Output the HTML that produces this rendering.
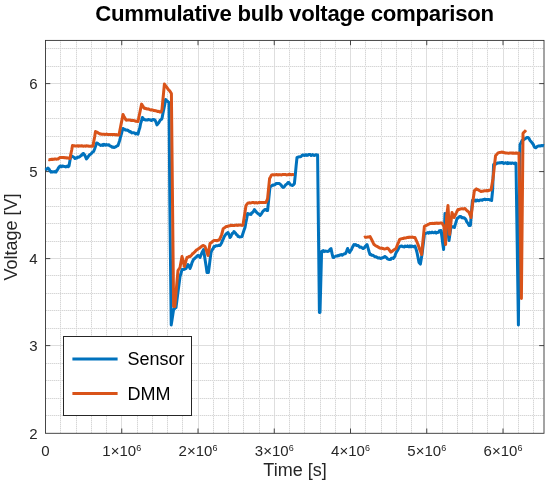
<!DOCTYPE html>
<html><head><meta charset="utf-8"><title>Cummulative bulb voltage comparison</title>
<style>
html,body{margin:0;padding:0;background:#fff;}
svg{display:block;font-family:"Liberation Sans",Arial,Helvetica,sans-serif;}
.mj{stroke:#dedede;stroke-width:1;}
.mb{stroke:#efefef;stroke-width:1;}
.mn{stroke:#d6d6d6;stroke-width:1;stroke-dasharray:1 1;}
.ax{stroke:#333;stroke-width:0.9;fill:none;}
.tk{font-size:15px;fill:#262626;}
.sup{font-size:9px;}
.lb{font-size:18px;fill:#262626;}
.ttl{font-size:22.2px;letter-spacing:-0.27px;font-weight:bold;fill:#000;}
.ln{fill:none;stroke-width:3;stroke-linejoin:round;stroke-linecap:butt;}
</style></head>
<body>
<svg width="550" height="485" viewBox="0 0 550 485">
<rect width="550" height="485" fill="#fff"/>
<g shape-rendering="crispEdges">
<line class="mb" x1="60.5" y1="40.4" x2="60.5" y2="433.3"/>
<line class="mn" x1="60.5" y1="40.4" x2="60.5" y2="433.3"/>
<line class="mb" x1="76.5" y1="40.4" x2="76.5" y2="433.3"/>
<line class="mn" x1="76.5" y1="40.4" x2="76.5" y2="433.3"/>
<line class="mb" x1="91.5" y1="40.4" x2="91.5" y2="433.3"/>
<line class="mn" x1="91.5" y1="40.4" x2="91.5" y2="433.3"/>
<line class="mb" x1="106.5" y1="40.4" x2="106.5" y2="433.3"/>
<line class="mn" x1="106.5" y1="40.4" x2="106.5" y2="433.3"/>
<line class="mj" x1="121.5" y1="40.4" x2="121.5" y2="433.3"/>
<line class="mb" x1="137.5" y1="40.4" x2="137.5" y2="433.3"/>
<line class="mn" x1="137.5" y1="40.4" x2="137.5" y2="433.3"/>
<line class="mb" x1="152.5" y1="40.4" x2="152.5" y2="433.3"/>
<line class="mn" x1="152.5" y1="40.4" x2="152.5" y2="433.3"/>
<line class="mb" x1="167.5" y1="40.4" x2="167.5" y2="433.3"/>
<line class="mn" x1="167.5" y1="40.4" x2="167.5" y2="433.3"/>
<line class="mb" x1="182.5" y1="40.4" x2="182.5" y2="433.3"/>
<line class="mn" x1="182.5" y1="40.4" x2="182.5" y2="433.3"/>
<line class="mj" x1="198.5" y1="40.4" x2="198.5" y2="433.3"/>
<line class="mb" x1="213.5" y1="40.4" x2="213.5" y2="433.3"/>
<line class="mn" x1="213.5" y1="40.4" x2="213.5" y2="433.3"/>
<line class="mb" x1="228.5" y1="40.4" x2="228.5" y2="433.3"/>
<line class="mn" x1="228.5" y1="40.4" x2="228.5" y2="433.3"/>
<line class="mb" x1="243.5" y1="40.4" x2="243.5" y2="433.3"/>
<line class="mn" x1="243.5" y1="40.4" x2="243.5" y2="433.3"/>
<line class="mb" x1="259.5" y1="40.4" x2="259.5" y2="433.3"/>
<line class="mn" x1="259.5" y1="40.4" x2="259.5" y2="433.3"/>
<line class="mj" x1="274.5" y1="40.4" x2="274.5" y2="433.3"/>
<line class="mb" x1="289.5" y1="40.4" x2="289.5" y2="433.3"/>
<line class="mn" x1="289.5" y1="40.4" x2="289.5" y2="433.3"/>
<line class="mb" x1="304.5" y1="40.4" x2="304.5" y2="433.3"/>
<line class="mn" x1="304.5" y1="40.4" x2="304.5" y2="433.3"/>
<line class="mb" x1="320.5" y1="40.4" x2="320.5" y2="433.3"/>
<line class="mn" x1="320.5" y1="40.4" x2="320.5" y2="433.3"/>
<line class="mb" x1="335.5" y1="40.4" x2="335.5" y2="433.3"/>
<line class="mn" x1="335.5" y1="40.4" x2="335.5" y2="433.3"/>
<line class="mj" x1="350.5" y1="40.4" x2="350.5" y2="433.3"/>
<line class="mb" x1="365.5" y1="40.4" x2="365.5" y2="433.3"/>
<line class="mn" x1="365.5" y1="40.4" x2="365.5" y2="433.3"/>
<line class="mb" x1="381.5" y1="40.4" x2="381.5" y2="433.3"/>
<line class="mn" x1="381.5" y1="40.4" x2="381.5" y2="433.3"/>
<line class="mb" x1="396.5" y1="40.4" x2="396.5" y2="433.3"/>
<line class="mn" x1="396.5" y1="40.4" x2="396.5" y2="433.3"/>
<line class="mb" x1="411.5" y1="40.4" x2="411.5" y2="433.3"/>
<line class="mn" x1="411.5" y1="40.4" x2="411.5" y2="433.3"/>
<line class="mj" x1="426.5" y1="40.4" x2="426.5" y2="433.3"/>
<line class="mb" x1="442.5" y1="40.4" x2="442.5" y2="433.3"/>
<line class="mn" x1="442.5" y1="40.4" x2="442.5" y2="433.3"/>
<line class="mb" x1="457.5" y1="40.4" x2="457.5" y2="433.3"/>
<line class="mn" x1="457.5" y1="40.4" x2="457.5" y2="433.3"/>
<line class="mb" x1="472.5" y1="40.4" x2="472.5" y2="433.3"/>
<line class="mn" x1="472.5" y1="40.4" x2="472.5" y2="433.3"/>
<line class="mb" x1="487.5" y1="40.4" x2="487.5" y2="433.3"/>
<line class="mn" x1="487.5" y1="40.4" x2="487.5" y2="433.3"/>
<line class="mj" x1="503.5" y1="40.4" x2="503.5" y2="433.3"/>
<line class="mb" x1="518.5" y1="40.4" x2="518.5" y2="433.3"/>
<line class="mn" x1="518.5" y1="40.4" x2="518.5" y2="433.3"/>
<line class="mb" x1="533.5" y1="40.4" x2="533.5" y2="433.3"/>
<line class="mn" x1="533.5" y1="40.4" x2="533.5" y2="433.3"/>
<line class="mb" x1="45.5" y1="415.5" x2="544.0" y2="415.5"/>
<line class="mn" x1="45.5" y1="415.5" x2="544.0" y2="415.5"/>
<line class="mb" x1="45.5" y1="398.5" x2="544.0" y2="398.5"/>
<line class="mn" x1="45.5" y1="398.5" x2="544.0" y2="398.5"/>
<line class="mb" x1="45.5" y1="380.5" x2="544.0" y2="380.5"/>
<line class="mn" x1="45.5" y1="380.5" x2="544.0" y2="380.5"/>
<line class="mb" x1="45.5" y1="363.5" x2="544.0" y2="363.5"/>
<line class="mn" x1="45.5" y1="363.5" x2="544.0" y2="363.5"/>
<line class="mj" x1="45.5" y1="345.5" x2="544.0" y2="345.5"/>
<line class="mb" x1="45.5" y1="328.5" x2="544.0" y2="328.5"/>
<line class="mn" x1="45.5" y1="328.5" x2="544.0" y2="328.5"/>
<line class="mb" x1="45.5" y1="310.5" x2="544.0" y2="310.5"/>
<line class="mn" x1="45.5" y1="310.5" x2="544.0" y2="310.5"/>
<line class="mb" x1="45.5" y1="293.5" x2="544.0" y2="293.5"/>
<line class="mn" x1="45.5" y1="293.5" x2="544.0" y2="293.5"/>
<line class="mb" x1="45.5" y1="275.5" x2="544.0" y2="275.5"/>
<line class="mn" x1="45.5" y1="275.5" x2="544.0" y2="275.5"/>
<line class="mj" x1="45.5" y1="258.5" x2="544.0" y2="258.5"/>
<line class="mb" x1="45.5" y1="241.5" x2="544.0" y2="241.5"/>
<line class="mn" x1="45.5" y1="241.5" x2="544.0" y2="241.5"/>
<line class="mb" x1="45.5" y1="223.5" x2="544.0" y2="223.5"/>
<line class="mn" x1="45.5" y1="223.5" x2="544.0" y2="223.5"/>
<line class="mb" x1="45.5" y1="206.5" x2="544.0" y2="206.5"/>
<line class="mn" x1="45.5" y1="206.5" x2="544.0" y2="206.5"/>
<line class="mb" x1="45.5" y1="188.5" x2="544.0" y2="188.5"/>
<line class="mn" x1="45.5" y1="188.5" x2="544.0" y2="188.5"/>
<line class="mj" x1="45.5" y1="171.5" x2="544.0" y2="171.5"/>
<line class="mb" x1="45.5" y1="153.5" x2="544.0" y2="153.5"/>
<line class="mn" x1="45.5" y1="153.5" x2="544.0" y2="153.5"/>
<line class="mb" x1="45.5" y1="136.5" x2="544.0" y2="136.5"/>
<line class="mn" x1="45.5" y1="136.5" x2="544.0" y2="136.5"/>
<line class="mb" x1="45.5" y1="118.5" x2="544.0" y2="118.5"/>
<line class="mn" x1="45.5" y1="118.5" x2="544.0" y2="118.5"/>
<line class="mb" x1="45.5" y1="101.5" x2="544.0" y2="101.5"/>
<line class="mn" x1="45.5" y1="101.5" x2="544.0" y2="101.5"/>
<line class="mj" x1="45.5" y1="83.5" x2="544.0" y2="83.5"/>
<line class="mb" x1="45.5" y1="66.5" x2="544.0" y2="66.5"/>
<line class="mn" x1="45.5" y1="66.5" x2="544.0" y2="66.5"/>
<line class="mb" x1="45.5" y1="48.5" x2="544.0" y2="48.5"/>
<line class="mn" x1="45.5" y1="48.5" x2="544.0" y2="48.5"/>
</g>
<g class="ax">
<rect x="45.5" y="40.4" width="498.5" height="392.90000000000003"/>
<line x1="121.75" y1="433.3" x2="121.75" y2="428.5"/>
<line x1="121.75" y1="40.4" x2="121.75" y2="45.199999999999996"/>
<line x1="198.0" y1="433.3" x2="198.0" y2="428.5"/>
<line x1="198.0" y1="40.4" x2="198.0" y2="45.199999999999996"/>
<line x1="274.25" y1="433.3" x2="274.25" y2="428.5"/>
<line x1="274.25" y1="40.4" x2="274.25" y2="45.199999999999996"/>
<line x1="350.5" y1="433.3" x2="350.5" y2="428.5"/>
<line x1="350.5" y1="40.4" x2="350.5" y2="45.199999999999996"/>
<line x1="426.75" y1="433.3" x2="426.75" y2="428.5"/>
<line x1="426.75" y1="40.4" x2="426.75" y2="45.199999999999996"/>
<line x1="503.0" y1="433.3" x2="503.0" y2="428.5"/>
<line x1="503.0" y1="40.4" x2="503.0" y2="45.199999999999996"/>
<line x1="45.5" y1="345.6" x2="50.3" y2="345.6"/>
<line x1="544.0" y1="345.6" x2="539.2" y2="345.6"/>
<line x1="45.5" y1="258.6" x2="50.3" y2="258.6"/>
<line x1="544.0" y1="258.6" x2="539.2" y2="258.6"/>
<line x1="45.5" y1="171.6" x2="50.3" y2="171.6"/>
<line x1="544.0" y1="171.6" x2="539.2" y2="171.6"/>
<line x1="45.5" y1="83.6" x2="50.3" y2="83.6"/>
<line x1="544.0" y1="83.6" x2="539.2" y2="83.6"/>
</g>
<polyline class="ln" stroke="#0072BD" points="45.6,170.1 46.8,168.9 48.0,168.1 49.0,169.0 50.0,170.9 51.0,172.1 51.8,171.6 52.7,172.1 53.5,171.9 54.3,171.6 55.2,172.1 56.0,172.1 56.8,170.3 57.6,169.6 58.4,168.0 59.2,166.8 60.0,166.1 60.8,166.1 61.6,166.7 62.4,165.9 63.2,166.1 64.0,166.5 64.8,166.6 65.7,166.9 66.5,166.4 67.3,166.1 68.2,166.7 69.0,166.1 70.0,160.3 71.0,155.5 71.8,156.5 72.6,156.4 73.4,156.9 74.2,157.4 75.0,158.5 75.8,157.9 76.7,158.2 77.5,157.1 78.3,157.3 79.2,157.0 80.0,156.5 80.9,155.6 81.8,155.1 82.7,153.7 83.6,153.5 84.5,154.8 85.5,156.7 86.4,158.9 87.3,158.0 88.2,156.6 89.1,155.4 90.0,154.5 90.9,153.9 91.8,152.9 92.7,152.0 93.6,151.5 94.6,149.0 95.6,146.0 96.6,142.9 97.4,143.1 98.3,144.0 99.2,144.4 100.0,144.9 100.8,145.4 101.6,145.2 102.4,144.6 103.2,145.5 104.0,144.4 104.8,144.8 105.6,145.2 106.4,144.5 107.2,144.9 108.0,144.9 108.9,144.7 109.7,145.8 110.6,146.3 111.4,146.5 112.3,147.2 113.1,146.9 114.0,147.5 114.8,147.3 115.6,146.8 116.4,146.4 117.2,145.8 118.0,145.5 118.8,143.1 119.7,140.4 120.5,137.0 121.3,134.4 122.2,130.8 123.0,128.5 123.8,129.1 124.7,129.3 125.5,130.1 126.3,130.2 127.2,129.9 128.0,130.5 128.8,130.8 129.6,131.7 130.4,131.4 131.2,132.4 132.0,132.9 132.9,132.7 133.7,132.8 134.6,132.9 135.4,133.9 136.3,133.3 137.1,133.6 138.0,134.1 138.9,130.6 139.8,127.9 140.6,123.6 141.5,120.8 142.4,117.5 144.0,119.5 144.8,119.6 145.7,120.1 146.5,120.0 147.4,120.1 148.2,119.5 149.1,119.7 149.9,119.7 150.8,120.3 151.6,120.5 152.5,119.5 153.3,119.6 154.2,119.7 155.0,120.1 156.0,122.2 157.0,124.9 157.8,123.8 158.7,122.9 159.5,121.4 160.3,120.0 161.2,119.5 162.0,118.5 162.9,113.6 163.8,109.1 164.7,104.8 165.6,99.5 166.4,100.5 167.3,101.0 168.2,101.9 169.0,102.5 169.8,200.5 171.2,325.1 172.0,319.9 172.8,314.7 173.6,309.5 174.4,309.0 175.2,307.6 176.0,307.5 176.8,301.3 177.6,295.1 178.4,288.9 179.2,282.7 180.0,276.5 181.0,273.5 182.0,269.5 182.8,269.6 183.6,269.5 184.4,269.3 185.2,268.6 186.0,268.5 187.0,266.4 188.0,264.5 189.0,266.0 190.0,268.5 191.0,266.0 192.0,262.6 193.0,260.5 193.8,259.1 194.7,258.5 195.5,257.6 196.3,257.0 197.2,255.8 198.0,255.5 199.0,255.9 200.0,257.5 200.9,255.1 201.8,253.0 202.7,251.3 203.6,249.5 204.4,255.2 205.3,261.0 206.2,266.8 207.0,272.5 208.4,272.5 209.3,265.8 210.1,259.2 211.0,252.5 212.0,249.9 213.0,248.9 214.0,246.5 214.9,246.5 215.7,245.8 216.6,245.8 217.4,245.7 218.3,245.6 219.1,245.2 220.0,245.5 220.8,244.3 221.7,242.8 222.5,240.5 223.3,238.8 224.2,236.7 225.0,235.5 226.0,234.0 227.0,233.3 228.0,232.5 229.0,234.7 230.0,237.5 230.8,236.7 231.6,234.7 232.4,233.3 233.2,233.2 234.0,231.5 234.8,232.5 235.6,233.1 236.4,234.6 237.2,234.9 238.0,236.5 238.8,236.5 239.6,237.1 240.4,236.9 241.2,236.7 242.0,236.5 243.0,233.2 244.0,230.3 245.0,227.5 245.9,222.4 246.7,218.5 247.6,213.5 248.4,213.8 249.3,214.3 250.2,214.0 251.0,214.5 251.8,212.9 252.7,212.4 253.6,211.3 254.4,209.5 255.3,210.9 256.3,211.9 257.2,212.9 258.1,213.8 259.1,214.2 260.0,215.5 260.8,214.5 261.7,213.3 262.5,211.9 263.3,210.9 264.2,210.2 265.0,209.5 265.9,209.5 266.7,210.4 267.6,210.5 268.8,198.5 270.0,186.5 271.0,186.5 272.0,185.5 272.8,185.0 273.6,185.2 274.4,184.9 275.2,184.4 276.0,183.5 276.8,183.5 277.6,183.4 278.4,183.5 279.2,183.6 280.0,184.1 281.0,184.9 282.0,186.5 283.0,187.5 283.8,187.1 284.7,186.2 285.5,185.0 286.3,184.4 287.2,183.7 288.0,182.5 288.9,182.6 289.8,183.9 290.6,184.8 291.5,185.2 292.4,185.5 293.4,184.8 294.4,183.5 295.3,174.8 296.1,166.2 297.0,157.5 298.0,157.3 299.0,156.7 300.0,156.9 301.0,156.6 302.0,155.4 303.0,154.9 303.8,155.3 304.6,155.5 305.4,154.8 306.2,154.8 307.1,155.4 307.9,155.2 308.7,154.5 309.5,154.5 310.3,154.5 311.1,155.4 311.9,155.3 312.7,154.5 313.5,155.3 314.4,155.5 315.2,155.1 316.0,154.7 316.8,155.0 317.6,154.9 318.5,233.7 319.4,312.5 320.0,312.5 320.8,282.0 321.6,251.5 322.5,250.9 323.3,250.6 324.1,251.6 325.0,250.9 326.0,251.3 327.0,251.3 328.0,251.5 329.0,251.0 330.0,249.4 331.0,248.5 332.0,253.4 333.0,257.5 333.8,257.6 334.6,256.6 335.4,256.4 336.2,256.1 337.0,256.1 337.9,255.6 338.7,255.7 339.6,255.1 340.4,255.1 341.3,254.5 342.1,255.2 343.0,254.5 343.9,254.0 344.7,253.8 345.6,253.5 346.6,251.1 347.6,248.5 348.6,251.0 349.6,252.5 350.5,250.8 351.4,249.8 352.2,247.7 353.1,246.1 354.0,244.5 354.8,244.9 355.7,244.6 356.5,245.4 357.3,245.5 358.2,245.6 359.0,246.5 359.9,247.3 360.8,246.9 361.8,247.7 362.7,248.4 363.6,248.5 364.5,247.6 365.3,246.3 366.1,245.5 367.0,244.5 368.0,247.9 369.0,251.5 370.0,254.5 370.8,254.3 371.6,255.2 372.4,255.2 373.2,255.5 374.0,256.1 374.9,256.7 375.8,256.7 376.6,257.1 377.5,257.6 378.4,258.1 379.2,257.8 380.1,258.3 381.0,258.5 381.8,258.1 382.6,257.7 383.4,257.5 384.2,256.8 385.0,256.5 385.8,257.1 386.6,257.7 387.4,258.8 388.2,259.1 389.0,259.5 389.8,259.6 390.7,259.4 391.5,258.2 392.3,258.2 393.2,258.4 394.0,257.5 394.8,256.3 395.6,253.9 396.4,252.2 397.2,251.0 398.0,249.5 399.0,247.5 400.0,246.5 400.8,246.2 401.7,245.9 402.5,246.6 403.3,246.8 404.2,246.9 405.0,246.0 405.8,246.6 406.7,246.5 407.5,245.9 408.3,246.7 409.2,246.8 410.0,245.9 410.8,246.8 411.7,246.1 412.5,246.2 413.3,246.7 414.2,246.5 415.0,246.1 416.0,248.9 417.0,252.5 418.0,257.4 419.0,262.5 420.4,264.1 421.2,259.3 422.0,254.5 423.2,244.5 424.4,234.5 425.3,233.8 426.1,233.1 427.0,232.9 427.8,232.6 428.7,233.1 429.5,232.2 430.3,232.8 431.2,232.7 432.0,232.1 432.8,232.5 433.7,232.8 434.5,232.6 435.3,232.0 436.2,233.1 437.0,232.5 437.8,232.4 438.6,232.3 439.4,230.8 440.2,230.6 441.0,230.5 441.9,236.8 442.7,243.2 443.6,249.5 445.0,213.5 446.0,218.9 447.0,225.5 448.0,233.0 449.0,240.5 450.0,233.5 451.0,226.5 451.9,227.1 452.7,226.7 453.5,226.8 454.4,227.5 455.3,224.4 456.1,222.0 457.0,218.5 458.0,218.2 459.0,216.9 460.0,216.5 460.8,216.4 461.7,217.7 462.5,217.6 463.3,218.1 464.2,217.7 465.0,218.5 465.8,219.4 466.6,221.5 467.4,222.6 468.2,223.6 469.0,225.5 470.4,225.5 471.4,213.0 472.4,200.5 473.2,201.0 474.0,200.7 474.8,200.9 475.6,200.0 476.4,200.9 477.2,200.0 478.0,200.5 478.9,200.8 479.7,200.2 480.6,199.9 481.4,200.0 482.3,200.3 483.1,199.4 484.0,199.5 484.9,199.1 485.7,199.7 486.6,199.4 487.4,199.4 488.3,199.5 489.1,199.5 490.0,200.1 490.8,199.9 491.6,200.5 492.6,190.5 493.6,164.5 494.5,164.0 495.4,163.7 496.2,164.0 497.1,163.1 498.0,163.1 498.8,163.1 499.6,162.7 500.5,162.9 501.3,162.5 502.1,162.8 502.9,162.5 503.7,163.4 504.5,163.2 505.4,162.7 506.2,163.1 507.0,163.6 507.8,162.6 508.6,163.5 509.5,163.0 510.3,163.1 511.1,163.5 511.9,163.0 512.7,163.1 513.5,163.3 514.4,163.7 515.2,162.9 516.0,163.1 517.2,244.1 518.4,325.1 519.2,234.8 520.0,144.5 521.0,142.9 522.0,140.5 522.9,140.3 523.7,139.8 524.6,139.1 525.4,138.6 526.3,137.8 527.1,137.5 528.0,137.5 529.0,138.3 530.0,140.5 531.0,141.5 531.8,142.4 532.6,143.5 533.4,144.6 534.2,146.7 535.0,147.5 535.8,147.7 536.6,147.1 537.4,146.4 538.2,146.1 539.0,146.1 539.8,145.8 540.7,145.9 541.5,145.5 542.3,145.8 543.2,145.5 544.0,145.7"/>
<polyline class="ln" stroke="#D95319" points="48.4,159.5 49.2,159.7 50.0,159.7 50.8,159.4 51.6,159.2 52.4,159.6 53.2,159.2 54.0,159.2 54.8,159.0 55.6,159.1 56.4,159.2 57.2,159.1 58.0,159.1 59.0,158.2 60.0,157.5 60.9,157.6 61.7,157.4 62.6,157.6 63.4,157.5 64.3,157.7 65.1,157.6 66.0,157.9 66.8,157.8 67.6,158.0 68.4,158.1 69.2,158.4 70.0,158.5 70.8,154.2 71.7,150.0 72.5,145.5 73.4,145.7 74.2,145.8 75.1,146.0 76.0,145.9 76.8,145.9 77.6,145.8 78.4,146.2 79.2,145.8 80.0,146.1 80.9,146.0 81.7,145.7 82.5,146.1 83.3,146.2 84.1,146.1 84.9,146.1 85.7,146.2 86.5,145.8 87.3,146.0 88.1,146.0 89.0,146.2 89.8,146.2 90.6,146.2 91.4,146.1 92.2,146.3 93.0,146.1 93.8,141.3 94.7,136.5 95.5,131.5 96.4,131.9 97.3,132.3 98.2,132.9 99.1,133.5 100.0,134.1 100.8,133.9 101.7,134.3 102.5,134.2 103.3,134.3 104.1,134.3 105.0,134.4 105.8,134.3 106.6,134.1 107.4,134.6 108.3,134.6 109.1,134.5 109.9,134.5 110.7,134.6 111.6,134.4 112.4,134.7 113.2,134.5 114.0,134.5 114.9,134.6 115.7,134.9 116.5,134.6 117.3,135.0 118.2,135.1 119.0,134.9 119.8,130.8 120.6,126.7 121.4,122.6 122.2,118.7 123.0,114.5 124.0,116.5 125.0,118.3 126.0,120.1 126.8,120.2 127.6,119.9 128.4,119.9 129.2,120.0 130.0,120.1 130.8,120.4 131.6,120.3 132.4,120.6 133.2,120.4 134.0,120.6 134.8,120.8 135.6,121.2 136.4,121.3 137.2,121.4 138.0,121.5 138.9,117.0 139.8,112.8 140.7,108.4 141.6,104.1 142.4,105.4 143.2,106.6 144.0,108.1 144.8,108.5 145.6,108.3 146.4,108.9 147.2,109.1 148.0,108.8 148.9,109.2 149.7,109.6 150.5,109.9 151.3,109.8 152.1,109.9 152.9,110.1 153.7,110.6 154.5,110.4 155.3,110.8 156.1,110.8 157.0,111.2 157.8,111.6 158.6,111.3 159.4,111.9 160.2,111.9 161.0,112.1 162.0,109.5 162.8,101.0 163.6,92.6 164.4,84.1 165.3,85.5 166.2,86.6 167.0,87.5 167.9,89.0 168.8,90.0 169.7,90.9 170.5,92.1 171.4,93.5 172.5,200.0 173.6,306.5 174.8,306.5 175.9,294.5 176.9,282.5 178.0,270.5 179.0,269.0 180.0,267.5 181.0,262.0 182.0,256.5 182.8,259.7 183.6,263.0 184.4,266.5 185.3,263.4 186.1,260.4 187.0,257.5 188.0,257.3 189.0,256.6 190.0,256.5 190.9,255.8 191.7,255.0 192.6,253.7 193.4,253.3 194.3,252.3 195.1,251.6 196.0,250.5 196.9,249.8 197.8,249.2 198.6,248.6 199.5,248.2 200.4,247.4 201.2,246.7 202.1,246.1 203.0,245.5 204.0,245.9 205.0,246.5 206.0,249.3 207.0,252.3 208.0,255.5 209.0,249.7 210.0,243.5 210.8,242.8 211.6,242.5 212.4,241.6 213.2,241.0 214.0,240.5 215.0,240.6 216.0,240.5 217.0,240.8 217.8,240.3 218.7,240.2 219.5,239.5 220.6,237.2 221.7,234.5 223.2,228.7 224.1,228.1 225.1,227.3 226.0,226.5 226.9,226.5 227.8,226.3 228.7,225.9 229.6,225.8 230.5,225.5 231.3,225.2 232.2,225.6 233.0,225.4 233.8,225.5 234.7,225.4 235.5,225.2 236.3,225.1 237.2,225.5 238.0,225.1 238.8,225.2 239.7,225.1 240.5,225.1 241.3,225.3 242.2,225.4 243.0,225.1 244.0,218.6 245.0,212.0 246.0,205.5 247.0,204.1 248.0,202.9 248.8,203.0 249.6,202.8 250.5,202.9 251.3,202.8 252.1,202.6 252.9,202.6 253.7,202.6 254.5,203.0 255.4,202.7 256.2,202.6 257.0,202.9 257.8,202.9 258.6,202.6 259.5,202.5 260.3,202.5 261.1,202.4 261.9,202.5 262.7,202.4 263.5,202.4 264.4,202.4 265.2,202.6 266.0,202.5 266.8,200.7 267.6,198.5 268.6,188.5 269.6,178.5 270.6,176.8 271.6,174.9 272.4,174.8 273.3,174.8 274.1,174.9 274.9,174.8 275.7,174.7 276.6,174.6 277.4,174.7 278.2,175.0 279.1,174.6 279.9,174.8 280.7,174.8 281.6,174.9 282.4,174.6 283.2,174.6 284.0,174.6 284.9,174.6 285.7,174.6 286.5,174.9 287.4,174.8 288.2,174.8 289.0,174.3 289.9,174.3 290.7,174.7 291.5,174.7 292.3,174.5 293.2,174.6 294.0,174.5"/>
<polyline class="ln" stroke="#D95319" points="364.0,237.5 364.9,237.1 365.7,237.2 366.6,237.3 367.4,237.1 368.3,237.0 369.1,236.9 370.0,236.5 370.8,238.0 371.6,239.5 372.4,241.1 373.2,242.9 374.0,244.5 374.9,245.1 375.7,245.7 376.6,246.2 377.4,246.6 378.3,247.2 379.1,247.6 380.0,248.1 380.8,248.3 381.7,248.1 382.5,248.6 383.3,248.5 384.2,249.0 385.0,248.9 385.9,248.7 386.7,248.3 387.6,248.1 388.5,248.9 389.3,250.0 390.1,251.2 391.0,252.1 391.8,251.6 392.7,250.7 393.5,250.1 394.3,249.7 395.2,249.1 396.0,248.5 396.9,246.2 397.8,243.9 398.7,241.8 399.6,239.5 400.5,239.0 401.4,238.8 402.2,238.6 403.1,238.6 404.0,238.1 404.9,238.0 405.7,238.0 406.6,237.7 407.4,237.4 408.3,237.3 409.1,237.5 410.0,237.1 410.8,237.3 411.7,237.1 412.5,237.1 413.3,237.4 414.2,237.5 415.0,237.5 416.0,239.8 417.0,242.0 418.0,244.5 418.9,247.1 419.8,249.7 420.7,251.9 421.6,254.5 423.0,240.5 424.4,226.5 425.2,225.8 426.0,225.6 426.8,225.2 427.6,224.9 428.4,224.2 429.2,224.1 430.0,223.5 430.8,223.6 431.6,223.4 432.4,223.3 433.2,223.6 434.0,223.3 434.8,223.5 435.6,223.2 436.4,223.1 437.2,223.4 438.0,223.1 438.8,223.4 439.6,223.2 440.4,223.0 441.2,223.0 442.0,223.1 443.0,224.8 444.0,226.5 444.8,235.5 445.6,244.5 446.6,216.5 448.0,205.5 448.8,220.0 449.6,234.5 450.8,223.5 452.0,212.5 453.0,215.1 454.0,217.5 454.8,216.1 455.6,214.1 456.4,212.6 457.2,211.0 458.0,209.5 458.9,209.6 459.8,209.1 460.6,208.9 461.5,208.8 462.4,208.8 463.2,208.9 464.1,208.8 465.0,208.5 465.8,209.4 466.6,210.3 467.4,211.1 468.2,211.6 469.0,212.5 470.0,214.8 471.0,217.5 472.0,209.0 473.0,200.5 474.4,190.5 475.4,189.9 476.4,188.9 477.3,189.5 478.2,189.7 479.2,190.5 480.1,190.9 481.0,191.5 481.8,191.3 482.7,191.2 483.5,191.0 484.3,190.8 485.2,190.8 486.0,190.7 486.8,190.9 487.7,190.4 488.5,190.7 489.3,190.2 490.2,190.1 491.0,190.1 492.0,184.5 493.0,178.5 493.9,170.8 494.7,163.2 495.6,155.5 496.8,154.4 498.0,152.9 498.8,152.7 499.6,152.4 500.4,152.4 501.2,152.2 502.0,152.1 502.8,152.5 503.6,152.3 504.4,152.6 505.2,153.1 506.0,153.1 506.8,152.9 507.6,153.1 508.4,153.3 509.2,153.2 510.1,152.9 510.9,152.9 511.7,152.9 512.5,153.3 513.3,153.0 514.1,153.2 514.9,153.3 515.8,153.0 516.6,153.0 517.4,153.3 518.2,153.2 519.0,153.1 520.2,225.8 521.4,298.5 522.2,216.0 523.0,133.5 524.0,132.2 525.0,131.3 526.0,130.1"/>
<text class="tk" x="45.5" y="455.8" text-anchor="middle">0</text>
<text class="tk" x="121.75" y="455.8" text-anchor="middle">1×10<tspan class="sup" dy="-4.4">6</tspan></text>
<text class="tk" x="198.0" y="455.8" text-anchor="middle">2×10<tspan class="sup" dy="-4.4">6</tspan></text>
<text class="tk" x="274.25" y="455.8" text-anchor="middle">3×10<tspan class="sup" dy="-4.4">6</tspan></text>
<text class="tk" x="350.5" y="455.8" text-anchor="middle">4×10<tspan class="sup" dy="-4.4">6</tspan></text>
<text class="tk" x="426.75" y="455.8" text-anchor="middle">5×10<tspan class="sup" dy="-4.4">6</tspan></text>
<text class="tk" x="503.0" y="455.8" text-anchor="middle">6×10<tspan class="sup" dy="-4.4">6</tspan></text>
<text class="tk" x="37.5" y="438.9" text-anchor="end">2</text>
<text class="tk" x="37.5" y="350.9" text-anchor="end">3</text>
<text class="tk" x="37.5" y="263.9" text-anchor="end">4</text>
<text class="tk" x="37.5" y="176.9" text-anchor="end">5</text>
<text class="tk" x="37.5" y="88.9" text-anchor="end">6</text>
<text class="ttl" x="294.5" y="20.6" text-anchor="middle">Cummulative bulb voltage comparison</text>
<text class="lb" x="295" y="476.4" text-anchor="middle">Time [s]</text>
<text class="lb" transform="translate(16.8,237) rotate(-90)" text-anchor="middle">Voltage [V]</text>
<g>
<rect x="63.5" y="336.5" width="128" height="79" fill="#fff" stroke="#262626" stroke-width="1" shape-rendering="crispEdges"/>
<line x1="72.4" y1="359" x2="117.6" y2="359" stroke="#0072BD" stroke-width="3"/>
<line x1="72.4" y1="393.4" x2="117.6" y2="393.4" stroke="#D95319" stroke-width="3"/>
<text class="lb" x="127.5" y="365" fill="#000" style="fill:#000">Sensor</text>
<text class="lb" x="127.5" y="399.6" style="fill:#000">DMM</text>
</g>
</svg>
</body></html>
